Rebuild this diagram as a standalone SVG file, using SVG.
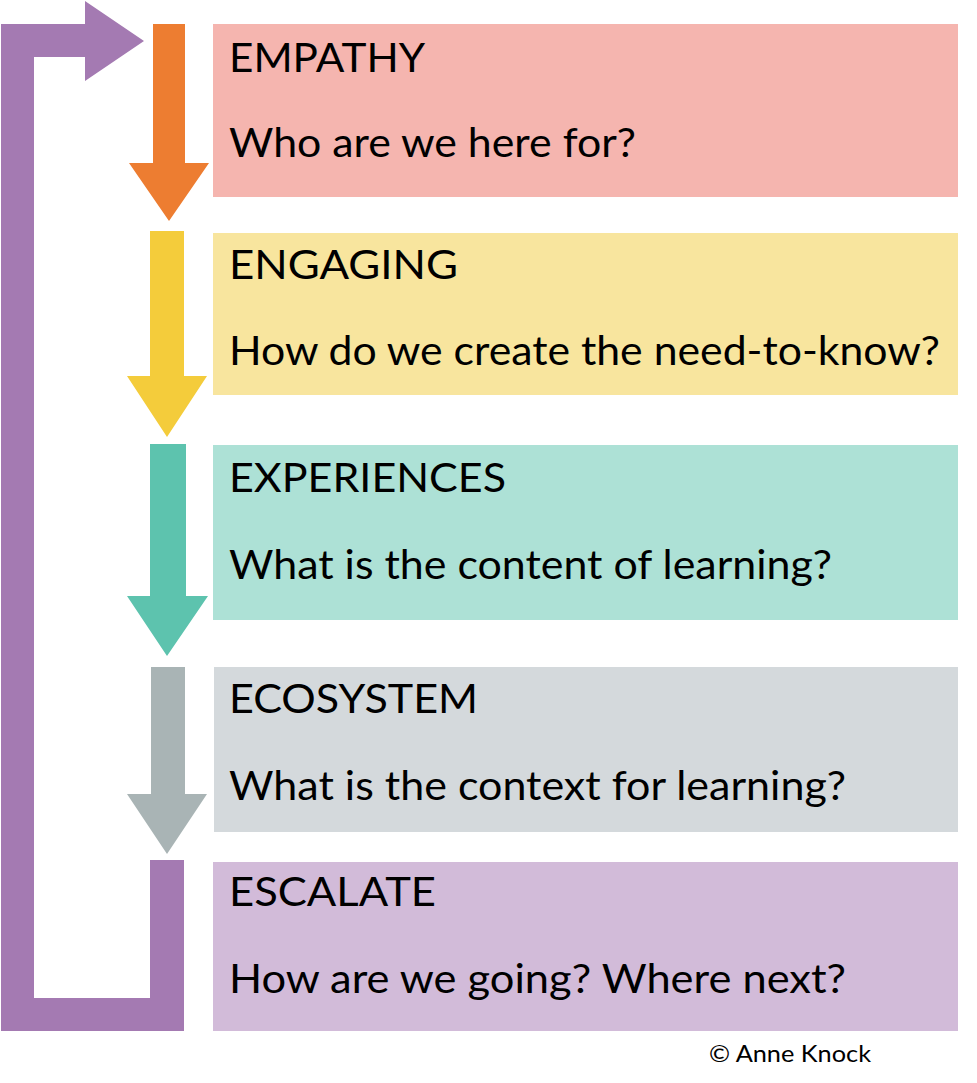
<svg xmlns="http://www.w3.org/2000/svg" width="977" height="1083" viewBox="0 0 977 1083">
<style>
  text { font-family: "Lato", "Noto Sans", "Liberation Sans", sans-serif; fill: #000; }
  .t { font-size: 41px; }
  .q { font-size: 41px; }
  .c { font-size: 23px; }
</style>
<rect width="977" height="1083" fill="#ffffff"/>
<g id="connectors">
  <path id="loop" d="M1,24 H85 V1 L144,41 L85,81 V57 H34 V998 H150 V860 H184 V1031 H1 Z" fill="#A47AB2"/>
  <path id="arrow-empathy" d="M153,24 H185 V163 H209 L169,221 L129,163 H153 Z" fill="#ED7D31"/>
  <path id="arrow-engaging" d="M150,231 H184 V376 H207 L167,437 L127,376 H150 Z" fill="#F4CC3B"/>
  <path id="arrow-experiences" d="M150,444 H186 V596 H208 L167,656 L127,596 H150 Z" fill="#5DC3AE"/>
  <path id="arrow-ecosystem" d="M151,667 H185 V794 H207 L167,854 L127,794 H151 Z" fill="#A9B4B5"/>
</g>
<g id="empathy">
  <rect x="213" y="24" width="745" height="173" fill="#F5B5AF"/>
  <text class="t" x="229" y="72" textLength="196" lengthAdjust="spacingAndGlyphs">EMPATHY</text>
  <text class="q" x="229" y="157" textLength="407" lengthAdjust="spacingAndGlyphs">Who are we here for?</text>
</g>
<g id="engaging">
  <rect x="213" y="233" width="745" height="162" fill="#F8E59E"/>
  <text class="t" x="229" y="279" textLength="229" lengthAdjust="spacingAndGlyphs">ENGAGING</text>
  <text class="q" x="229" y="365" textLength="711" lengthAdjust="spacingAndGlyphs">How do we create the need-to-know?</text>
</g>
<g id="experiences">
  <rect x="213" y="445" width="745" height="175" fill="#ADE1D6"/>
  <text class="t" x="229" y="492" textLength="277" lengthAdjust="spacingAndGlyphs">EXPERIENCES</text>
  <text class="q" x="229" y="579" textLength="603" lengthAdjust="spacingAndGlyphs">What is the content of learning?</text>
</g>
<g id="ecosystem">
  <rect x="214" y="667" width="744" height="165" fill="#D4D9DC"/>
  <text class="t" x="229" y="713" textLength="249" lengthAdjust="spacingAndGlyphs">ECOSYSTEM</text>
  <text class="q" x="229" y="800" textLength="617" lengthAdjust="spacingAndGlyphs">What is the context for learning?</text>
</g>
<g id="escalate">
  <rect x="213" y="862" width="745" height="169" fill="#D2BBD9"/>
  <text class="t" x="229" y="906" textLength="207" lengthAdjust="spacingAndGlyphs">ESCALATE</text>
  <text class="q" x="229" y="993" textLength="617" lengthAdjust="spacingAndGlyphs">How are we going? Where next?</text>
</g>
<text class="c" x="709" y="1062" textLength="162" lengthAdjust="spacingAndGlyphs">© Anne Knock</text>
</svg>
